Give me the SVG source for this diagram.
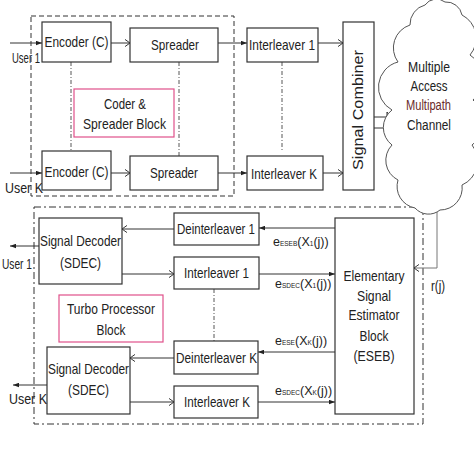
<svg xmlns="http://www.w3.org/2000/svg" width="474" height="450" viewBox="0 0 474 450">
<style>
  text { font-family: "Liberation Sans", Arial, sans-serif; fill: #222; }
  .t15 { font-size: 15px; }
  .t14 { font-size: 14px; }
  .lbl { font-size: 12.5px; }
  .mid { text-anchor: middle; }
  .box { fill: #fff; stroke: #333; stroke-width: 1.2; }
  .pink { fill: #fff; stroke: #e0508a; stroke-width: 1.2; }
  .dash { fill: none; stroke: #333; stroke-width: 1; stroke-dasharray: 5 3; }
  .dashdot { fill: none; stroke: #333; stroke-width: 1; stroke-dasharray: 7 3 2 3; }
  .vdd { fill: none; stroke: #444; stroke-width: 0.9; stroke-dasharray: 4 2 1 2; }
  .ln { fill: none; stroke: #333; stroke-width: 1; }
  .fa { marker-end: url(#fill); }
  .oa { marker-end: url(#open); }
  .sub { font-size: 6.5px; }
</style>
<defs>
  <marker id="fill" viewBox="0 0 8 6" refX="8" refY="3" markerWidth="6" markerHeight="5" markerUnits="userSpaceOnUse" orient="auto">
    <path d="M0,0 L8,3 L0,6 z" fill="#222"/>
  </marker>
  <marker id="open" viewBox="0 0 8 10" refX="7" refY="5" markerWidth="6" markerHeight="8" markerUnits="userSpaceOnUse" orient="auto">
    <path d="M0,0 L7,5 L0,10" fill="none" stroke="#333" stroke-width="1.3"/>
  </marker>
</defs>

<!-- group frames -->
<rect id="coder-spreader-frame" x="31" y="16" width="203" height="180" class="dash"/>
<rect id="turbo-frame" x="34" y="207" width="389" height="217" class="dashdot"/>

<g id="connectors">
  <line x1="10" y1="43" x2="42" y2="43" class="ln fa"/>
  <line x1="10" y1="173" x2="42" y2="173" class="ln fa"/>
  <line x1="111" y1="43" x2="130" y2="43" class="ln oa"/>
  <line x1="111" y1="173" x2="130" y2="173" class="ln oa"/>
  <line x1="218" y1="43" x2="247" y2="43" class="ln fa"/>
  <line x1="218" y1="173" x2="247" y2="173" class="ln fa"/>
  <line x1="318" y1="43" x2="343" y2="43" class="ln oa"/>
  <line x1="323" y1="173" x2="343" y2="173" class="ln oa"/>
  <line x1="71" y1="62" x2="71" y2="151" class="vdd"/>
  <line x1="179" y1="62" x2="179" y2="156" class="vdd"/>
  <line x1="282" y1="62" x2="282" y2="150" class="vdd"/>
  <path d="M374,117 H387 V112 L395,122.5 L387,134 V128 H374" fill="#fff" stroke="#333" stroke-width="1"/>

  <line x1="335" y1="228" x2="259" y2="228" class="ln fa"/>
  <line x1="259" y1="274" x2="335" y2="274" class="ln fa"/>
  <line x1="335" y1="352" x2="258" y2="352" class="ln fa"/>
  <line x1="258" y1="402" x2="335" y2="402" class="ln fa"/>
  <line x1="174" y1="229" x2="122" y2="229" class="ln oa"/>
  <line x1="122" y1="274" x2="174" y2="274" class="ln oa"/>
  <line x1="174" y1="358" x2="130" y2="358" class="ln oa"/>
  <line x1="130" y1="402" x2="174" y2="402" class="ln oa"/>
  <line x1="39" y1="246" x2="10" y2="246" class="ln fa"/>
  <line x1="47" y1="385" x2="13" y2="385" class="ln fa"/>
  <line x1="214" y1="289" x2="214" y2="341" class="vdd"/>
  <polyline points="437,208 437,268 414,268" fill="none" stroke="#777" stroke-width="1" marker-end="url(#open)"/>

  <text x="273" y="246" class="lbl">e<tspan class="sub">ESEB</tspan>(X<tspan class="sub">1</tspan>(j))</text>
  <text x="275" y="288" class="lbl">e<tspan class="sub">SDEC</tspan>(X<tspan class="sub">1</tspan>(j))</text>
  <text x="275" y="345" class="lbl">e<tspan class="sub">ESE</tspan>(X<tspan class="sub">K</tspan>(j))</text>
  <text x="275" y="395" class="lbl">e<tspan class="sub">SDEC</tspan>(X<tspan class="sub">K</tspan>(j))</text>
  <text x="431" y="291" textLength="14" lengthAdjust="spacingAndGlyphs" class="t14">r(j)</text>
</g>

<g id="user1-in"><text x="12" y="63" textLength="28" lengthAdjust="spacingAndGlyphs" class="t14">User 1</text></g>
<g id="userK-in"><text x="5" y="193" textLength="38" lengthAdjust="spacingAndGlyphs" class="t14">User K</text></g>

<g id="encoder1"><rect x="42" y="22" width="69" height="40" class="box"/>
  <text x="76.5" y="47" textLength="64" lengthAdjust="spacingAndGlyphs" class="t15 mid">Encoder (C)</text></g>
<g id="encoderK"><rect x="42" y="151" width="69" height="39" class="box"/>
  <text x="76.5" y="177" textLength="64" lengthAdjust="spacingAndGlyphs" class="t15 mid">Encoder (C)</text></g>
<g id="spreader1"><rect x="130" y="28" width="88" height="34" class="box"/>
  <text x="175" y="50" textLength="48" lengthAdjust="spacingAndGlyphs" class="t15 mid">Spreader</text></g>
<g id="spreaderK"><rect x="130" y="156" width="88" height="34" class="box"/>
  <text x="174" y="178" textLength="48" lengthAdjust="spacingAndGlyphs" class="t15 mid">Spreader</text></g>
<g id="coder-spreader-label"><rect x="74" y="89" width="100" height="48" class="pink"/>
  <text x="125" y="109" textLength="42" lengthAdjust="spacingAndGlyphs" class="t15 mid">Coder &amp;</text>
  <text x="124.5" y="129" textLength="83" lengthAdjust="spacingAndGlyphs" class="t15 mid">Spreader Block</text></g>
<g id="interleaver1-tx"><rect x="247" y="28" width="71" height="34" class="box"/>
  <text x="282" y="50" textLength="66" lengthAdjust="spacingAndGlyphs" class="t15 mid">Interleaver 1</text></g>
<g id="interleaverK-tx"><rect x="247" y="156" width="76" height="34" class="box"/>
  <text x="284" y="179" textLength="66" lengthAdjust="spacingAndGlyphs" class="t15 mid">Interleaver K</text></g>
<g id="signal-combiner"><rect x="343" y="22" width="31" height="168" class="box"/>
  <text transform="translate(363,110) rotate(-90)" textLength="120" lengthAdjust="spacingAndGlyphs" class="t15 mid" font-size="15.5">Signal Combiner</text></g>

<g id="channel">
  <path d="M392,110 A26,26 0 0 1 398,62 A24,24 0 0 1 410,25 A20,20 0 0 1 425,5 A14,14 0 0 1 445,2 A16,16 0 0 1 462,15 A26,26 0 0 1 470,55 A28,28 0 0 1 473,100 A28,28 0 0 1 472,145 A26,26 0 0 1 462,185 A22,22 0 0 1 440,210 A18,18 0 0 1 415,208 A22,22 0 0 1 398,180 A22,22 0 0 1 392,145 A22,22 0 0 1 392,110 Z" fill="#fff" stroke="#555" stroke-width="1"/>
  <text x="429" y="72" textLength="42" lengthAdjust="spacingAndGlyphs" class="t14 mid">Multiple</text>
  <text x="429" y="91" textLength="37" lengthAdjust="spacingAndGlyphs" class="t14 mid">Access</text>
  <text x="428.5" y="110" textLength="45" lengthAdjust="spacingAndGlyphs" class="t14 mid" style="fill:#6a2c2c">Multipath</text>
  <text x="429" y="130" textLength="44" lengthAdjust="spacingAndGlyphs" class="t14 mid">Channel</text>
</g>

<g id="sdec1"><rect x="39" y="218" width="83" height="66" class="box"/>
  <text x="80.5" y="246" textLength="81" lengthAdjust="spacingAndGlyphs" class="t15 mid">Signal Decoder</text>
  <text x="80.5" y="268" textLength="41" lengthAdjust="spacingAndGlyphs" class="t15 mid">(SDEC)</text></g>
<g id="sdecK"><rect x="47" y="347" width="83" height="67" class="box"/>
  <text x="88.5" y="374" textLength="81" lengthAdjust="spacingAndGlyphs" class="t15 mid">Signal Decoder</text>
  <text x="88.5" y="395" textLength="41" lengthAdjust="spacingAndGlyphs" class="t15 mid">(SDEC)</text></g>
<g id="turbo-label"><rect x="59" y="295" width="104" height="47" class="pink"/>
  <text x="111" y="314" textLength="88" lengthAdjust="spacingAndGlyphs" class="t15 mid">Turbo Processor</text>
  <text x="111" y="335" textLength="29" lengthAdjust="spacingAndGlyphs" class="t15 mid">Block</text></g>
<g id="deinterleaver1"><rect x="174" y="213" width="85" height="32" class="box"/>
  <text x="216" y="234" textLength="78" lengthAdjust="spacingAndGlyphs" class="t14 mid">Deinterleaver 1</text></g>
<g id="interleaver1-rx"><rect x="174" y="257" width="85" height="32" class="box"/>
  <text x="216.5" y="278" textLength="65" lengthAdjust="spacingAndGlyphs" class="t15 mid">Interleaver 1</text></g>
<g id="deinterleaverK"><rect x="174" y="341" width="84" height="33" class="box"/>
  <text x="216.5" y="363" textLength="81" lengthAdjust="spacingAndGlyphs" class="t14 mid">Deinterleaver K</text></g>
<g id="interleaverK-rx"><rect x="174" y="386" width="84" height="32" class="box"/>
  <text x="217" y="407" textLength="66" lengthAdjust="spacingAndGlyphs" class="t15 mid">Interleaver K</text></g>
<g id="eseb"><rect x="335" y="218" width="79" height="196" class="box"/>
  <text x="374" y="281" textLength="61" lengthAdjust="spacingAndGlyphs" class="t15 mid">Elementary</text>
  <text x="374" y="301" textLength="34" lengthAdjust="spacingAndGlyphs" class="t15 mid">Signal</text>
  <text x="374" y="320" textLength="51" lengthAdjust="spacingAndGlyphs" class="t15 mid">Estimator</text>
  <text x="374" y="341" textLength="29" lengthAdjust="spacingAndGlyphs" class="t15 mid">Block</text>
  <text x="374" y="361" textLength="41" lengthAdjust="spacingAndGlyphs" class="t15 mid">(ESEB)</text></g>

<g id="user1-out"><text x="2" y="269" textLength="30" lengthAdjust="spacingAndGlyphs" class="t14">User 1</text></g>
<g id="userK-out"><text x="9" y="404" textLength="38" lengthAdjust="spacingAndGlyphs" class="t14">User K</text></g>
</svg>
